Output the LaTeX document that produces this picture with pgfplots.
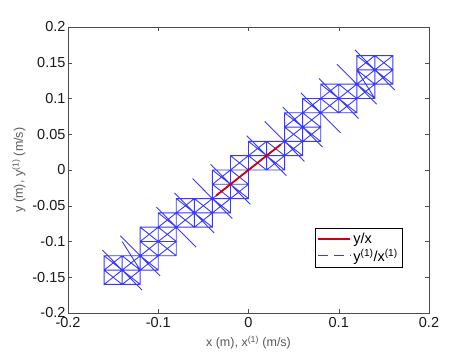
\documentclass[border=0pt]{standalone}
\usepackage{pgfplots}
\pgfplotsset{compat=1.18}
\usepackage{fontspec}
\setmainfont{Liberation Sans}
\definecolor{mblue}{rgb}{0.22,0.22,1}
\definecolor{mred}{rgb}{0.8,0,0.05}
\begin{document}
\begin{tikzpicture}
\useasboundingbox (-68pt,-42pt) rectangle (406pt,313pt);
\begin{axis}[at={(0,0)}, anchor=south west, scale only axis,
  width=361pt, height=286pt,
  xmin=-0.2, xmax=0.2, ymin=-0.2, ymax=0.2,
  xtick={-0.2,-0.1,0,0.1,0.2},
  ytick={-0.2,-0.15,-0.1,-0.05,0,0.05,0.1,0.15,0.2},
  tick align=inside, major tick length=4pt,
  axis line style={black!70}, tick style={black!70},
  tick label style={font=\fontsize{14.5}{16}\selectfont, text=black!90},
  xticklabel style={yshift=-1pt},
  yticklabel style={xshift=1pt},
  /pgf/number format/assume math mode=true,
  /pgf/number format/fixed, /pgf/number format/precision=2,
  xlabel={x (m), x\textsuperscript{(1)} (m/s)},
  ylabel={y (m), y\textsuperscript{(1)} (m/s)},
  label style={font=\fontsize{12.5}{14}\selectfont, text=black!65},
  xlabel style={yshift=-1pt},
  unbounded coords=jump,
  legend style={at={(0.925,0.161)}, anchor=south east, draw=black,
    font=\fontsize{14.5}{16}\selectfont, row sep=0pt, inner sep=2pt},
  legend cell align=left,
  legend image code/.code={\draw[#1] (0cm,0cm) -- (1.15cm,0cm);},
]
\addplot[mblue, line width=0.9pt, forget plot] coordinates {
(-0.16,-0.16) (-0.12,-0.16) (-0.12,-0.12) (-0.16,-0.12) (-0.16,-0.16) (-0.12,-0.12) (nan,nan)
(-0.16,-0.12) (-0.12,-0.16) (nan,nan)
(-0.16,-0.14) (-0.12,-0.14) (nan,nan)
(-0.14,-0.16) (-0.14,-0.12) (nan,nan)
(-0.16,-0.14) (-0.14,-0.12) (-0.12,-0.14) (-0.14,-0.16) (-0.16,-0.14) (nan,nan)
(-0.12,-0.12) (-0.08,-0.12) (-0.08,-0.08) (-0.12,-0.08) (-0.12,-0.12) (-0.08,-0.08) (nan,nan)
(-0.12,-0.08) (-0.08,-0.12) (nan,nan)
(-0.12,-0.10) (-0.08,-0.10) (nan,nan)
(-0.10,-0.12) (-0.10,-0.08) (nan,nan)
(-0.12,-0.10) (-0.10,-0.08) (-0.08,-0.10) (-0.10,-0.12) (-0.12,-0.10) (nan,nan)
(-0.08,-0.08) (-0.04,-0.08) (-0.04,-0.04) (-0.08,-0.04) (-0.08,-0.08) (-0.04,-0.04) (nan,nan)
(-0.08,-0.04) (-0.04,-0.08) (nan,nan)
(-0.08,-0.06) (-0.04,-0.06) (nan,nan)
(-0.06,-0.08) (-0.06,-0.04) (nan,nan)
(-0.08,-0.06) (-0.06,-0.04) (-0.04,-0.06) (-0.06,-0.08) (-0.08,-0.06) (nan,nan)
(-0.04,-0.04) (0,-0.04) (0,0) (-0.04,0) (-0.04,-0.04) (0,0) (nan,nan)
(-0.04,0) (0,-0.04) (nan,nan)
(-0.04,-0.02) (0,-0.02) (nan,nan)
(-0.02,-0.04) (-0.02,0) (nan,nan)
(-0.04,-0.02) (-0.02,0) (0,-0.02) (-0.02,-0.04) (-0.04,-0.02) (nan,nan)
(0,0) (0.04,0) (0.04,0.04) (0,0.04) (0,0) (0.04,0.04) (nan,nan)
(0,0.04) (0.04,0) (nan,nan)
(0,0.02) (0.04,0.02) (nan,nan)
(0.02,0) (0.02,0.04) (nan,nan)
(0,0.02) (0.02,0.04) (0.04,0.02) (0.02,0) (0,0.02) (nan,nan)
(0.04,0.04) (0.08,0.04) (0.08,0.08) (0.04,0.08) (0.04,0.04) (0.08,0.08) (nan,nan)
(0.04,0.08) (0.08,0.04) (nan,nan)
(0.04,0.06) (0.08,0.06) (nan,nan)
(0.06,0.04) (0.06,0.08) (nan,nan)
(0.04,0.06) (0.06,0.08) (0.08,0.06) (0.06,0.04) (0.04,0.06) (nan,nan)
(0.08,0.08) (0.12,0.08) (0.12,0.12) (0.08,0.12) (0.08,0.08) (0.12,0.12) (nan,nan)
(0.08,0.12) (0.12,0.08) (nan,nan)
(0.08,0.10) (0.12,0.10) (nan,nan)
(0.10,0.08) (0.10,0.12) (nan,nan)
(0.08,0.10) (0.10,0.12) (0.12,0.10) (0.10,0.08) (0.08,0.10) (nan,nan)
(0.12,0.12) (0.16,0.12) (0.16,0.16) (0.12,0.16) (0.12,0.12) (0.16,0.16) (nan,nan)
(0.12,0.16) (0.16,0.12) (nan,nan)
(0.12,0.14) (0.16,0.14) (nan,nan)
(0.14,0.12) (0.14,0.16) (nan,nan)
(0.12,0.14) (0.14,0.16) (0.16,0.14) (0.14,0.12) (0.12,0.14) (nan,nan)
(-0.12,-0.14) (-0.10,-0.14) (-0.10,-0.12) (nan,nan)
(-0.12,-0.14) (-0.10,-0.12) (nan,nan)
(-0.12,-0.12) (-0.10,-0.14) (nan,nan)
(-0.10,-0.08) (-0.10,-0.06) (-0.08,-0.06) (nan,nan)
(-0.10,-0.08) (-0.08,-0.06) (nan,nan)
(-0.10,-0.06) (-0.08,-0.08) (nan,nan)
(-0.04,-0.06) (-0.02,-0.06) (-0.02,-0.04) (nan,nan)
(-0.04,-0.06) (-0.02,-0.04) (nan,nan)
(-0.04,-0.04) (-0.02,-0.06) (nan,nan)
(-0.02,0) (-0.02,0.02) (0,0.02) (nan,nan)
(-0.02,0) (0,0.02) (nan,nan)
(-0.02,0.02) (0,0) (nan,nan)
(0.04,0.02) (0.06,0.02) (0.06,0.04) (nan,nan)
(0.04,0.02) (0.06,0.04) (nan,nan)
(0.04,0.04) (0.06,0.02) (nan,nan)
(0.06,0.08) (0.06,0.10) (0.08,0.10) (nan,nan)
(0.06,0.08) (0.08,0.10) (nan,nan)
(0.06,0.10) (0.08,0.08) (nan,nan)
(0.12,0.10) (0.14,0.10) (0.14,0.12) (nan,nan)
(0.12,0.10) (0.14,0.12) (nan,nan)
(0.12,0.12) (0.14,0.10) (nan,nan)
(-0.162,-0.112) (-0.118,-0.168) (nan,nan)
(-0.142,-0.092) (-0.098,-0.148) (nan,nan)
(-0.102,-0.052) (-0.058,-0.108) (nan,nan)
(-0.082,-0.032) (-0.038,-0.088) (nan,nan)
(-0.062,-0.012) (-0.018,-0.068) (nan,nan)
(-0.042,0.008) (0.002,-0.048) (nan,nan)
(-0.002,0.048) (0.042,-0.008) (nan,nan)
(0.018,0.068) (0.062,0.012) (nan,nan)
(0.038,0.088) (0.082,0.032) (nan,nan)
(0.058,0.108) (0.102,0.052) (nan,nan)
(0.078,0.128) (0.122,0.072) (nan,nan)
(0.098,0.148) (0.142,0.092) (nan,nan)
(0.118,0.168) (0.162,0.112) (nan,nan)
(0.14,0.14) (0.16,0.12) (nan,nan)
(0.12,0.14) (0.14,0.10) (nan,nan)
(-0.14,-0.14) (-0.16,-0.12) (nan,nan)
(-0.12,-0.14) (-0.14,-0.10)
};
\addplot[mred, line width=1.8pt] coordinates {(-0.036,-0.036) (0.036,0.036)};
\addlegendentry{y/x}
\addlegendimage{mblue, line width=0.9pt, dash pattern=on 10pt off 6pt}
\addlegendentry{y\textsuperscript{(1)}/x\textsuperscript{(1)}}
\end{axis}
\end{tikzpicture}
\end{document}
